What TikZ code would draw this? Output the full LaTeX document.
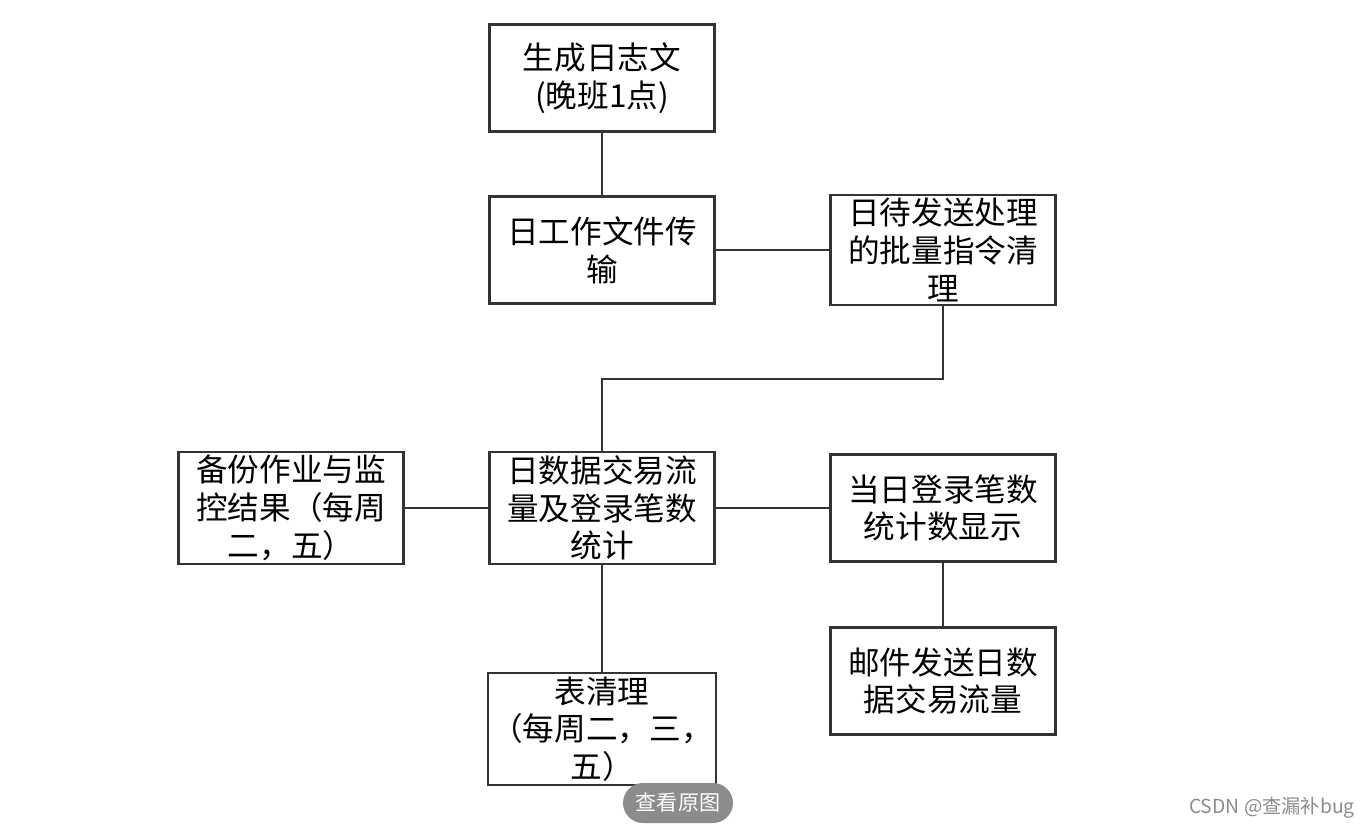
\documentclass[tikz,border=0pt]{standalone}
\usepackage{fontspec}
\setmainfont{Noto Sans CJK SC}
\usetikzlibrary{positioning,calc}

\begin{document}
\begin{tikzpicture}[x=0.02cm,y=-0.02cm,
    every node/.style={font=\fontsize{18}{21.5}\selectfont},
    stepbox/.style={draw=black!80, line width=1.2pt, minimum width=4.5cm, minimum height=2.14cm, align=center, inner sep=2pt},
    link/.style={draw=black!80, line width=1.2pt}]
    \useasboundingbox (0,0) rectangle (1362,828);

    % Boxes
    \node[stepbox] (gen) at (602,78) {生成日志文\\(晚班1点)};
    \node[stepbox] (trans) at (602,250) {日工作文件传\\输};
    \node[stepbox] (clean) at (943,250) {日待发送处理\\的批量指令清\\理};
    \node[stepbox] (stat) at (602,508) {日数据交易流\\量及登录笔数\\统计};
    \node[stepbox] (backup) at (291,508) {备份作业与监\\控结果（每周\\二，五）};
    \node[stepbox] (show) at (943,508) {当日登录笔数\\统计数显示};
    \node[stepbox] (mail) at (943,681) {邮件发送日数\\据交易流量};
    \node[stepbox] (table) at (602,729) {表清理\\（每周二，三，\\五）};

    % Connectors
    \coordinate (bend) at (602,379);
    \draw[link] (gen) -- (trans);
    \draw[link] (trans) -- (clean);
    \draw[link] (clean.south) |- (bend) -- (stat.north);
    \draw[link] (stat) -- (backup);
    \draw[link] (stat) -- (show);
    \draw[link] (show) -- (mail);
    \draw[link] (stat) -- (table);

    % Overlay
    \node[fill=black!45, text=white, rounded corners=0.4cm, minimum width=2.2cm, minimum height=0.8cm, font=\fontsize{12}{14}\selectfont] (orig) at (678,803) {查看原图};
    \node[text=black!45, font=\fontsize{11}{13}\selectfont] (mark) at (1272,808) {CSDN @查漏补bug};
\end{tikzpicture}
\end{document}
